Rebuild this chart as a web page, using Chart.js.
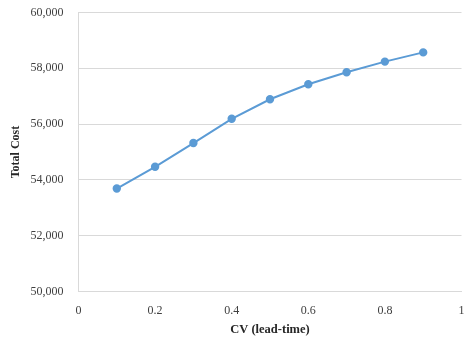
<!DOCTYPE html>
<html>
<head>
<meta charset="utf-8">
<script src="https://cdn.jsdelivr.net/npm/chart.js@4"></script>
<style>
  html, body { margin: 0; padding: 0; background: #fff; }
  #wrap { width: 474px; height: 347px; }
</style>
</head>
<body>
<div id="wrap"><canvas id="costChart"></canvas></div>
<script>
const cvLeadTime = [0.1, 0.2, 0.3, 0.4, 0.5, 0.6, 0.7, 0.8, 0.9];
const totalCost = [53690, 54470, 55320, 56190, 56890, 57430, 57860, 58240, 58570];

const xTicks = [0, 0.2, 0.4, 0.6, 0.8, 1];
const yTicks = [50000, 52000, 54000, 56000, 58000, 60000];

const serif = "'Liberation Serif', 'DejaVu Serif', serif";
const gridGray = "#d9d9d9";
const textGray = "#404040";

const points = cvLeadTime.map((x, i) => ({ x: x, y: totalCost[i] }));

const ctx = document.getElementById("costChart");

new Chart(ctx, {
    type: "scatter",
    data: {
        datasets: [{
            data: points,
            showLine: true,
            borderColor: "#5b9bd5",
            backgroundColor: "#5b9bd5",
            borderWidth: 2,
            pointRadius: 3.2,
            pointHoverRadius: 3.2
        }]
    },
    options: {
        responsive: true,
        maintainAspectRatio: false,
        animation: false,
        layout: { padding: { top: 12.5, right: 12.5, left: 0, bottom: 0 } },
        plugins: {
            legend: { display: false },
            tooltip: { enabled: false }
        },
        scales: {
            x: {
                type: "linear",
                min: 0,
                max: 1,
                afterBuildTicks: (axis) => { axis.ticks = xTicks.map(v => ({ value: v })); },
                afterFit: (axis) => {
                    // fixed band under the plot; labels may overhang the sides
                    axis.height = 55.5;
                    axis.paddingLeft = 0;
                    axis.paddingRight = 0;
                },
                grid: { display: false, drawTicks: false },
                border: { display: true, color: gridGray, width: 1 },
                ticks: {
                    padding: 12,
                    color: textGray,
                    font: { family: serif, size: 12 },
                    callback: (v) => String(v)
                },
                title: {
                    display: true,
                    text: "CV (lead-time)",
                    color: "#262626",
                    font: { family: serif, size: 12.5, weight: "bold" },
                    padding: { top: 4, bottom: 10 }
                }
            },
            y: {
                min: 50000,
                max: 60000,
                afterBuildTicks: (axis) => { axis.ticks = yTicks.map(v => ({ value: v })); },
                afterFit: (axis) => {
                    axis.width = 78.5;
                    axis.paddingTop = 0;
                    axis.paddingBottom = 0;
                },
                grid: { color: gridGray, drawTicks: false, lineWidth: 1 },
                border: { display: true, color: gridGray, width: 1 },
                ticks: {
                    padding: 15,
                    color: textGray,
                    font: { family: serif, size: 12 },
                    callback: (v) => v.toLocaleString("en-US")
                },
                title: {
                    display: true,
                    text: "Total Cost",
                    color: "#262626",
                    font: { family: serif, size: 12, weight: "bold" },
                    padding: { top: 9, bottom: 0 }
                }
            }
        }
    }
});
</script>
</body>
</html>
